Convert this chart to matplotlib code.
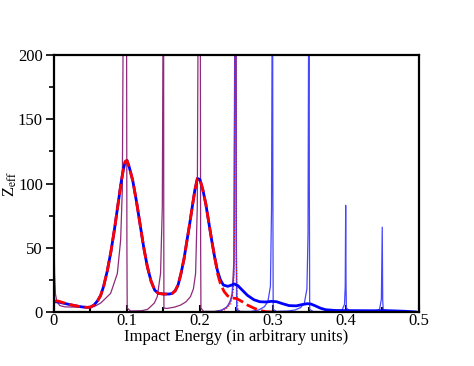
import matplotlib
matplotlib.use("Agg")
import matplotlib.pyplot as plt
from matplotlib.ticker import MultipleLocator

plt.rcParams.update({
    "font.family": "Liberation Serif",
    "mathtext.fontset": "stix",
    "font.size": 12,
})

# thick blue curve
blue_x = [0.000, 0.006, 0.012, 0.020, 0.030, 0.038, 0.045, 0.050, 0.055, 0.060,
          0.064, 0.068, 0.073, 0.078, 0.083, 0.088, 0.092, 0.095, 0.0975, 0.100,
          0.103, 0.108, 0.113, 0.118, 0.123, 0.128, 0.133, 0.138, 0.143, 0.150,
          0.158, 0.162, 0.166, 0.170, 0.174, 0.178, 0.182, 0.186, 0.190, 0.193,
          0.1965, 0.200, 0.204, 0.208, 0.212, 0.216, 0.220, 0.224, 0.228, 0.232,
          0.238, 0.2435, 0.2466, 0.252, 0.258, 0.265, 0.274, 0.282, 0.290, 0.298,
          0.305, 0.313, 0.322, 0.332, 0.340, 0.347, 0.352, 0.358, 0.365, 0.372,
          0.385, 0.400, 0.430, 0.460, 0.480, 0.495]
blue_y = [8.0, 7.8, 7.0, 6.0, 4.8, 4.0, 3.6, 3.8, 5.5, 9.0,
          13, 20, 32, 47, 65, 85, 101, 111, 117, 118,
          113, 102, 86, 68, 50, 35, 24, 17, 14.5, 14,
          14, 14.5, 16.5, 21, 30, 41, 55, 69, 84, 95,
          104, 103, 95, 84, 70, 56, 43, 32, 25, 21,
          20, 21, 21.9, 20.5, 17, 13, 9.5, 8, 7.8, 8.3,
          8, 6.5, 5, 4.8, 5.8, 6.5, 6.2, 4.8, 3, 1.8,
          1.2, 1.1, 1, 1, 0.6, 0.1]

# red dashed curve
red_x = [0.000, 0.006, 0.012, 0.020, 0.030, 0.038, 0.045, 0.050, 0.055, 0.060,
         0.064, 0.068, 0.073, 0.078, 0.083, 0.088, 0.092, 0.095, 0.0975, 0.100,
         0.103, 0.108, 0.113, 0.118, 0.123, 0.128, 0.133, 0.138, 0.143, 0.150,
         0.158, 0.162, 0.166, 0.170, 0.174, 0.178, 0.182, 0.186, 0.190, 0.193,
         0.1965, 0.200, 0.204, 0.208, 0.212, 0.216, 0.220, 0.224, 0.228, 0.233,
         0.238, 0.243, 0.250, 0.258, 0.265, 0.274, 0.282, 0.290, 0.300]
red_y = [8.6, 8.5, 7.4, 6.0, 4.8, 4.0, 3.6, 3.8, 5.5, 9.0,
         13, 20, 32, 47, 65, 85, 101, 111, 117, 118,
         113, 102, 86, 68, 50, 35, 24, 17, 14.5, 14,
         14, 14.5, 16.5, 21, 30, 41, 55, 69, 84, 95,
         104, 103, 95, 84, 70, 56, 43, 30, 22, 16,
         12.5, 11, 10.5, 8, 5.4, 3, 1.2, 0.3, 0.05]

# thin purple resonance curve
purple_x = [0.0, 0.0008, 0.002, 0.004, 0.008, 0.015, 0.030, 0.046, 0.055, 0.064,
            0.0776, 0.0868, 0.0913, 0.0936, 0.0955, 0.097, 0.0985, 0.0995, 0.0999, 0.1003,
            0.105, 0.120, 0.128, 0.132, 0.1375, 0.1415, 0.146, 0.1484, 0.1492, 0.1497,
            0.1501, 0.1503, 0.1506, 0.155, 0.165, 0.1735, 0.181, 0.187, 0.191, 0.194,
            0.1963, 0.1972, 0.198, 0.1995, 0.2005, 0.2009, 0.2013, 0.205, 0.220, 0.230,
            0.237, 0.241, 0.244, 0.2465, 0.2475, 0.248, 0.2495, 0.2499, 0.2503, 0.255, 0.270]
purple_y = [60, 30, 14, 8, 5, 4, 3.8, 3.8, 4.2, 7,
            14.5, 30, 56, 95, 300, 600, 400, 200, 50, 3,
            0.8, 1, 2, 4, 7, 12, 30, 82, 200, 500,
            400, 100, 3, 2.8, 3.8, 5.4, 8, 12, 18, 30,
            82, 200, 500, 600, 200, 50, 3, 0.5, 0.5, 1.5,
            4, 8, 14, 40, 200, 500, 300, 50, 2, 0.5, 0.2]

# thin blue resonance curve
tblue_x = [0.220, 0.228, 0.235, 0.240, 0.244, 0.2465, 0.2478, 0.2485, 0.2495, 0.2502,
           0.255, 0.270, 0.280, 0.288, 0.293, 0.2965, 0.298, 0.2987, 0.2993, 0.2998,
           0.3003, 0.305, 0.320, 0.330, 0.338, 0.343, 0.3465, 0.348, 0.3487, 0.3493,
           0.3498, 0.3503, 0.355, 0.375, 0.390, 0.395, 0.398, 0.399, 0.3996, 0.4001,
           0.4006, 0.405, 0.420, 0.440, 0.446, 0.4485, 0.4497, 0.4503, 0.451, 0.460,
           0.480, 0.500]
tblue_y = [0.2, 1, 3, 6, 12, 30, 200, 400, 100, 2,
           0.3, 0.5, 1.5, 4, 8, 20, 80, 200, 400, 100,
           2, 0.5, 0.8, 1.5, 3.5, 7, 18, 60, 200, 400,
           100, 2, 0.4, 0.3, 1, 2, 6, 20, 83, 20,
           3, 1, 0.5, 0.8, 2, 10, 66, 10, 2, 0.8,
           0.3, 0.1]

# thin red dotted near 0.25
tred_x = [0.225, 0.235, 0.242, 0.246, 0.2475, 0.248, 0.249, 0.2495, 0.252]
tred_y = [0.3, 2, 6, 18, 60, 200, 300, 40, 1]

fig = plt.figure(figsize=(4.74, 3.66), dpi=100)
ax = fig.add_axes([0.1139, 0.1475, 0.770, 0.702])

ax.plot(purple_x, purple_y, color="#8e2a7a", linewidth=0.9)
ax.plot(tblue_x, tblue_y, color="#4646ff", linewidth=0.9)
ax.plot(tred_x, tred_y, color="red", linewidth=0.8, linestyle=":")
ax.plot(blue_x, blue_y, color="blue", linewidth=2.0)
ax.plot(red_x, red_y, color="red", linewidth=2.0, linestyle=(0, (4, 1.6)))

ax.set_xlim(0, 0.5)
ax.set_ylim(0, 200)
ax.xaxis.set_minor_locator(MultipleLocator(0.05))
ax.yaxis.set_major_locator(MultipleLocator(50))
ax.yaxis.set_minor_locator(MultipleLocator(25))
ax.set_xticks([0, 0.1, 0.2, 0.3, 0.4, 0.5])
ax.set_xticklabels(["0", "0.1", "0.2", "0.3", "0.4", "0.5"])

ax.tick_params(axis="y", which="major", direction="out", length=6, width=1.2, pad=2)
ax.tick_params(axis="y", which="minor", direction="out", length=3.5, width=1.2)
ax.tick_params(axis="x", which="major", direction="in", length=5, width=1.5, pad=1)
ax.tick_params(axis="x", which="minor", direction="in", length=3.5, width=1.5)
for s in ax.spines.values():
    s.set_linewidth(1.6)

ax.set_xlabel("Impact Energy (in arbitrary units)", fontsize=12, labelpad=0)
ax.set_ylabel(r"Z$_{\rm eff}$", fontsize=12)
ax.yaxis.set_label_coords(-0.095, 0.5)

plt.savefig("out.png")
